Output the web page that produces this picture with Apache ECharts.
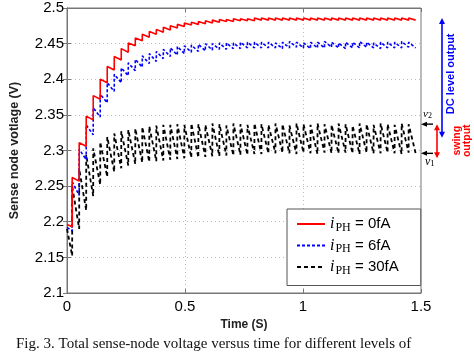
<!DOCTYPE html>
<html>
<head>
<meta charset="utf-8">
<script src="https://cdn.jsdelivr.net/npm/echarts@6/dist/echarts.min.js"></script>
<style>
html,body{margin:0;padding:0;background:#fff;}
#c{width:474px;height:355px;}
</style>
</head>
<body>
<div id="c"></div>
<script>
// ---- data ----
// Each period k: value jumps to high[k] at its start, decays to low[k] at its end.
const firstJump = 0.022;   // s, time of first step
const period = 0.0297;     // s, step period
const xTicks = [0, 0.5, 1, 1.5];
const yTicks = [2.1, 2.15, 2.2, 2.25, 2.3, 2.35, 2.4, 2.45, 2.5];
const seriesNames = ['0fA', '6fA', '30fA'];

const redHigh = [2.196,2.262,2.311,2.348,2.377,2.400,2.418,2.432,2.443,2.451,
  2.458,2.463,2.467,2.470,2.473,2.475,2.477,2.479,2.480,2.481,
  2.482,2.483,2.484,2.484,2.485,2.485,2.485,2.486,2.486,2.486,
  2.486,2.486,2.486,2.486,2.486,2.486,2.486,2.486,2.486,2.486,
  2.486,2.486,2.486,2.486,2.486,2.486,2.486,2.486,2.486,2.486];
const redLow = [2.193,2.257,2.306,2.343,2.372,2.395,2.413,2.427,2.438,2.447,
  2.454,2.459,2.463,2.466,2.469,2.472,2.474,2.476,2.477,2.478,
  2.479,2.480,2.481,2.481,2.482,2.482,2.482,2.483,2.483,2.483,
  2.483,2.483,2.483,2.483,2.483,2.483,2.483,2.483,2.483,2.483,
  2.483,2.483,2.483,2.483,2.483,2.483,2.483,2.483,2.483,2.483];

const blueHigh = [2.192,2.256,2.302,2.336,2.360,2.379,2.395,2.407,2.416,2.423,
  2.428,2.433,2.436,2.439,2.442,2.444,2.446,2.447,2.448,2.449,
  2.450,2.450,2.451,2.451,2.451,2.452,2.452,2.452,2.452,2.452,
  2.451,2.452,2.453,2.452,2.451,2.452,2.452,2.453,2.452,2.451,
  2.452,2.452,2.453,2.452,2.451,2.452,2.452,2.452,2.453,2.452];
const blueLow = [2.187,2.237,2.287,2.322,2.347,2.367,2.383,2.395,2.405,2.412,
  2.417,2.422,2.425,2.429,2.432,2.434,2.436,2.438,2.439,2.440,
  2.441,2.442,2.442,2.443,2.443,2.444,2.444,2.444,2.444,2.444,
  2.443,2.444,2.445,2.444,2.443,2.444,2.444,2.445,2.444,2.443,
  2.444,2.444,2.445,2.444,2.443,2.444,2.444,2.444,2.445,2.444];

const blackHigh = [2.190,2.250,2.274,2.294,2.303,2.312,2.319,2.324,2.327,2.329,
  2.331,2.333,2.334,2.335,2.336,2.336,2.337,2.336,2.338,2.337,
  2.336,2.338,2.337,2.335,2.338,2.337,2.336,2.338,2.337,2.336,
  2.338,2.337,2.335,2.338,2.337,2.336,2.338,2.337,2.336,2.338,
  2.337,2.335,2.338,2.337,2.336,2.338,2.337,2.336,2.338,2.337];
const blackLow = [2.152,2.190,2.216,2.236,2.252,2.263,2.270,2.275,2.279,2.281,
  2.283,2.284,2.285,2.286,2.287,2.288,2.289,2.290,2.290,2.291,
  2.292,2.292,2.293,2.293,2.294,2.294,2.295,2.295,2.296,2.296,
  2.297,2.296,2.295,2.297,2.296,2.295,2.297,2.296,2.296,2.297,
  2.296,2.295,2.297,2.296,2.296,2.297,2.296,2.295,2.297,2.296];

// swing annotation levels
const v2Level = 2.337, v1Level = 2.296;

function build(high, low) {
  const pts = [];
  for (let k = 0; k < high.length; k++) {
    const t0 = k === 0 ? 0 : firstJump + period * (k - 1);
    const t1 = firstJump + period * k;
    pts.push([t0, high[k]], [t1, low[k]]);
  }
  return pts;
}

const SANS = '"Liberation Sans", Arial, sans-serif';
const SERIF = '"Liberation Serif", "Times New Roman", serif';

const chart = echarts.init(document.getElementById('c'), null, {renderer: 'canvas'});

const fmtY = v => String(+v.toFixed(2));
const fmtX = v => String(+v.toFixed(2));

chart.setOption({
  animation: false,
  grid: {left: 59, right: 53, top: 8, bottom: 62, show: true, borderColor: '#777', borderWidth: 1},
  xAxis: [{
    type: 'value', min: xTicks[0], max: xTicks[xTicks.length - 1], interval: 0.5,
    name: 'Time (S)', nameLocation: 'middle', nameGap: 22,
    nameTextStyle: {fontFamily: SANS, fontSize: 12, fontWeight: 'bold', color: '#222'},
    axisLine: {lineStyle: {color: '#777'}},
    axisTick: {inside: true, length: 4, lineStyle: {color: '#777'}},
    axisLabel: {formatter: fmtX, fontFamily: SANS, fontSize: 15, color: '#000', margin: 6},
    splitLine: {show: true, lineStyle: {type: [1, 3], color: '#bbb'}}
  }, {
    type: 'value', position: 'top', min: xTicks[0], max: xTicks[xTicks.length - 1], interval: 0.5,
    axisLine: {lineStyle: {color: '#777'}},
    axisTick: {inside: true, length: 4, lineStyle: {color: '#777'}},
    axisLabel: {show: false}, splitLine: {show: false}
  }],
  yAxis: [{
    type: 'value', min: yTicks[0], max: yTicks[yTicks.length - 1], interval: 0.05,
    name: 'Sense node votlage (V)', nameLocation: 'middle', nameGap: 46,
    nameTextStyle: {fontFamily: SANS, fontSize: 12.5, fontWeight: 'bold', color: '#222'},
    axisLine: {show: true, lineStyle: {color: '#777'}},
    axisTick: {show: true, inside: true, length: 4, lineStyle: {color: '#777'}},
    axisLabel: {formatter: fmtY, fontFamily: SANS, fontSize: 15, color: '#000', margin: 3},
    splitLine: {show: true, lineStyle: {type: [1, 3], color: '#bbb'}}
  }, {
    type: 'value', position: 'right', min: yTicks[0], max: yTicks[yTicks.length - 1], interval: 0.05,
    axisLine: {show: true, lineStyle: {color: '#777'}},
    axisTick: {show: true, inside: true, length: 4, lineStyle: {color: '#777'}},
    axisLabel: {show: false}, splitLine: {show: false}
  }],
  legend: {
    orient: 'vertical', left: 287, top: 209,
    padding: [7, 22, 9, 9], itemGap: 4, itemWidth: 28, itemHeight: 10,
    backgroundColor: '#fff', borderColor: '#555', borderWidth: 1,
    itemStyle: {opacity: 0},
    data: seriesNames,
    formatter: n => '{i|i}{s|PH}{t| = ' + n + '}',
    textStyle: {
      rich: {
        i: {fontFamily: SERIF, fontStyle: 'italic', fontSize: 16, color: '#000'},
        s: {fontFamily: SERIF, fontSize: 12, color: '#000', padding: [7, 0, 0, 1]},
        t: {fontFamily: SANS, fontSize: 15, color: '#000'}
      }
    }
  },
  series: [
    {name: seriesNames[0], type: 'line', data: build(redHigh, redLow), showSymbol: false, symbol: 'none',
     lineStyle: {color: '#ff0000', width: 1.6}, itemStyle: {color: '#ff0000'}, z: 4},
    {name: seriesNames[1], type: 'line', data: build(blueHigh, blueLow), showSymbol: false, symbol: 'none',
     lineStyle: {color: '#0000ff', width: 1.6, type: [3, 2]}, itemStyle: {color: '#0000ff'}, z: 3},
    {name: seriesNames[2], type: 'line', data: build(blackHigh, blackLow), showSymbol: false, symbol: 'none',
     lineStyle: {color: '#000', width: 1.8, type: [4, 3]}, itemStyle: {color: '#000'}, z: 2}
  ]
});

// ---- annotations on the right ----
const py = v => chart.convertToPixel({yAxisIndex: 0}, v);
const yTop = py(redHigh[redHigh.length - 1]);
const yV2 = py(v2Level), yV1 = py(v1Level);
const yBlueEnd = py(2.318);

function vArrow(x, y1, y2, color) {
  const h = 6, w = 3;
  return [
    {type: 'line', shape: {x1: x, y1: y1 + 3, x2: x, y2: y2 - 3}, style: {stroke: color, lineWidth: 1.6}},
    {type: 'polygon', shape: {points: [[x, y1], [x - w, y1 + h], [x + w, y1 + h]]}, style: {fill: color}},
    {type: 'polygon', shape: {points: [[x, y2], [x - w, y2 - h], [x + w, y2 - h]]}, style: {fill: color}}
  ];
}
function hArrow(x1, x2, y) { // tip at x1 (left)
  return [
    {type: 'line', shape: {x1: x1 + 3, y1: y, x2: x2, y2: y}, style: {stroke: '#000', lineWidth: 1.4}},
    {type: 'polygon', shape: {points: [[x1, y], [x1 + 6, y - 2.5], [x1 + 6, y + 2.5]]}, style: {fill: '#000'}}
  ];
}

const g = [].concat(
  vArrow(442, yTop, yBlueEnd, '#0000ff'),
  vArrow(437, yV2, yV1 + 5, '#ff0000'),
  hArrow(421, 433, yV2),
  hArrow(421, 433, yV1),
  [
    {type: 'text', x: 451, y: (yTop + yBlueEnd) / 2 - 4, rotation: Math.PI / 2,
     style: {text: 'DC level output', fontFamily: SANS, fontSize: 11, fontWeight: 'bold', fill: '#0000ff',
             align: 'center', verticalAlign: 'middle'}},
    {type: 'text', x: 457.5, y: (yV2 + yV1) / 2 + 2, rotation: Math.PI / 2,
     style: {text: 'swing', fontFamily: SANS, fontSize: 10.5, fontWeight: 'bold', fill: '#ff0000',
             align: 'center', verticalAlign: 'middle'}},
    {type: 'text', x: 467.5, y: (yV2 + yV1) / 2 + 2, rotation: Math.PI / 2,
     style: {text: 'output', fontFamily: SANS, fontSize: 10.5, fontWeight: 'bold', fill: '#ff0000',
             align: 'center', verticalAlign: 'middle'}},
    {type: 'text', x: 423, y: yV2 - 4,
     style: {text: '{v|v}{n|2}', verticalAlign: 'bottom', align: 'left',
             rich: {v: {fontFamily: SERIF, fontStyle: 'italic', fontSize: 11, fill: '#000'},
                    n: {fontFamily: SERIF, fontSize: 8, fill: '#000', padding: [4, 0, 0, 0]}}}},
    {type: 'text', x: 425, y: yV1 + 1,
     style: {text: '{v|v}{n|1}', verticalAlign: 'top', align: 'left',
             rich: {v: {fontFamily: SERIF, fontStyle: 'italic', fontSize: 12, fill: '#000'},
                    n: {fontFamily: SERIF, fontSize: 9, fill: '#000', padding: [5, 0, 0, 0]}}}},
    {type: 'text', x: 16, y: 337,
     style: {text: 'Fig. 3. Total sense-node voltage versus time for different levels of',
             fontFamily: SERIF, fontSize: 15, fill: '#111', align: 'left', verticalAlign: 'top'}}
  ]
);
chart.setOption({graphic: g});
</script>
</body>
</html>
